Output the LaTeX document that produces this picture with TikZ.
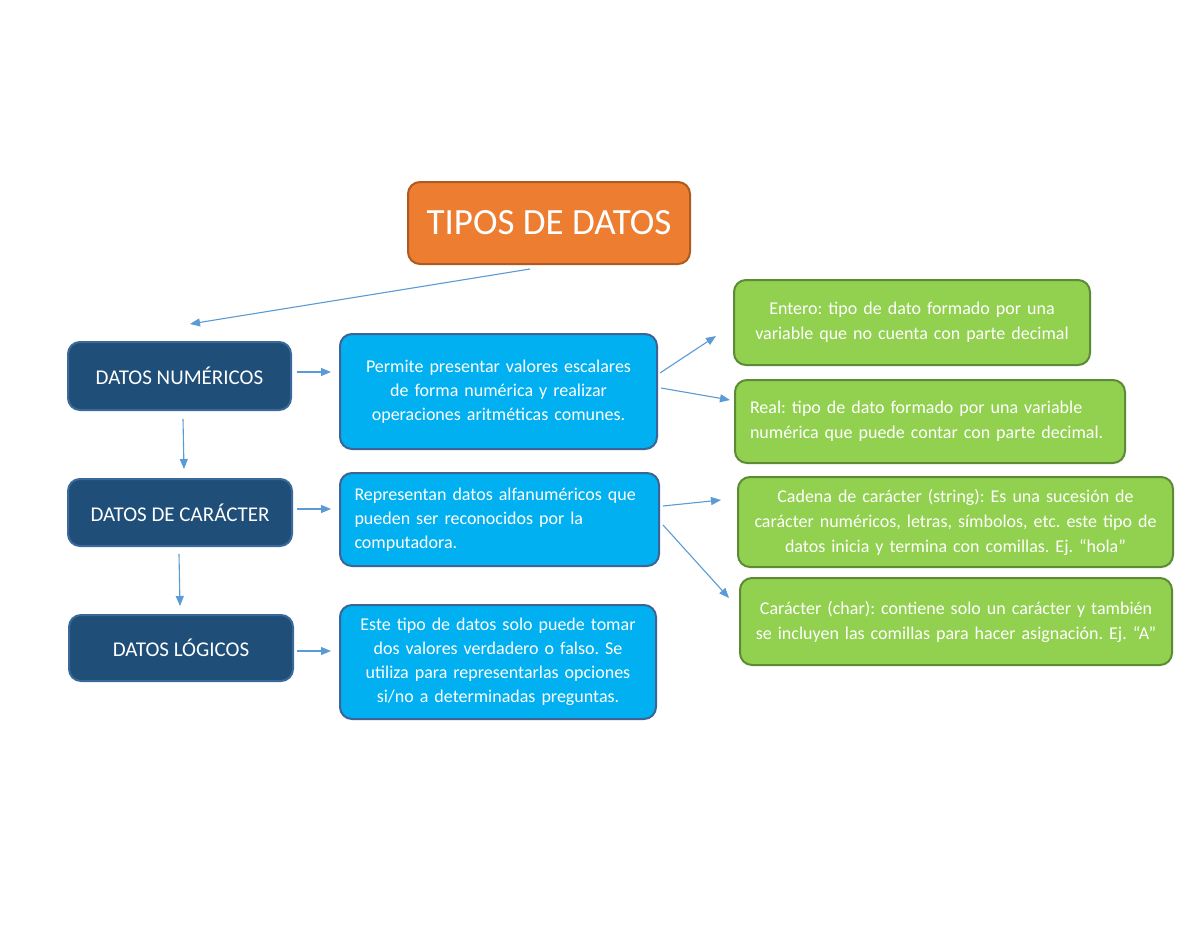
\documentclass[tikz,border=0pt]{standalone}
\usepackage{fontspec}
\setmainfont{Carlito}
\usetikzlibrary{arrows.meta,calc}
\definecolor{orfill}{HTML}{ED7D31}
\definecolor{ordraw}{HTML}{AE5A21}
\definecolor{dbfill}{HTML}{1F4E79}
\definecolor{dbdraw}{HTML}{3A6A99}
\definecolor{lbfill}{HTML}{00B0F0}
\definecolor{lbdraw}{HTML}{3C6496}
\definecolor{gfill}{HTML}{92D050}
\definecolor{gdraw}{HTML}{5B8C35}
\definecolor{arrc}{HTML}{5B9BD5}
\frenchspacing
\tikzset{
  basebox/.style={rectangle, rounded corners=12pt, line width=2pt, text=white, inner sep=0pt, font=\fontsize{18}{24}\selectfont},
  titlebox/.style={basebox, fill=orfill, draw=ordraw, font=\fontsize{37}{42}\selectfont},
  catbox/.style={basebox, fill=dbfill, draw=dbdraw, font=\fontsize{21}{24}\selectfont},
  descbox/.style={basebox, fill=lbfill, draw=lbdraw},
  typebox/.style={basebox, fill=gfill, draw=gdraw, font=\fontsize{18}{25}\selectfont},
  arr/.style={draw=arrc, line width=1.1pt, -{Triangle[length=10pt,width=8pt]}}
}
\begin{document}
\begin{tikzpicture}[x=1pt,y=-1pt]
\useasboundingbox[fill=white] (0,0) rectangle (1200,927);
\node[titlebox, minimum width=282pt, minimum height=82pt] (tipos) at (549,223) {TIPOS DE DATOS};
\node[catbox, minimum width=223pt, minimum height=68pt] (num) at (179.5,376) {DATOS NUMÉRICOS};
\node[catbox, minimum width=224pt, minimum height=67pt] (car) at (180,512.5) {DATOS DE CARÁCTER};
\node[catbox, minimum width=224pt, minimum height=66pt] (log) at (181,648) {DATOS LÓGICOS};
\node[descbox, minimum width=317pt, minimum height=115pt, text width=300pt, align=center] (b1) at (498.5,391.5) {Permite presentar valores escalares\\de forma numérica y realizar\\operaciones aritméticas comunes.};
\node[descbox, minimum width=319pt, minimum height=93pt, text width=290pt, align=left] (b2) at (499.5,519.5) {Representan datos alfanuméricos que\\pueden ser reconocidos por la\\computadora.};
\node[descbox, minimum width=316pt, minimum height=114pt, text width=300pt, align=center] (b3) at (498,662) {Este tipo de datos solo puede tomar\\dos valores verdadero o falso. Se\\utiliza para representarlas opciones\\si/no a determinadas preguntas.};
\node[typebox, minimum width=356pt, minimum height=85pt, text width=340pt, align=center] (g1) at (912,322.5) {Entero: tipo de dato formado por una\\variable que no cuenta con parte decimal};
\node[typebox, minimum width=390pt, minimum height=83pt, text width=360pt, align=left] (g2) at (930,421.5) {Real: tipo de dato formado por una variable\\numérica que puede contar con parte decimal.};
\node[typebox, minimum width=435pt, minimum height=90pt, text width=425pt, align=center] (g3) at (955.5,522) {Cadena de carácter (string): Es una sucesión de\\carácter numéricos, letras, símbolos, etc. este tipo de\\datos inicia y termina con comillas. Ej. “hola”};
\node[typebox, minimum width=432pt, minimum height=87pt, text width=425pt, align=center] (g4) at (956,621.5) {Carácter (char): contiene solo un carácter y también\\se incluyen las comillas para hacer asignación. Ej. “A”};
\draw[arr] ($(tipos.south)+(-19,4)$) -- ($(num.north)+(10.5,-17)$);
\draw[arr] ($(num.east)+(5,-4)$) -- ($(b1.west)+(-8,-19.5)$);
\draw[arr] ($(car.east)+(4,-3.5)$) -- ($(b2.west)+(-8,-10.5)$);
\draw[arr] ($(log.east)+(3,3)$) -- ($(b3.west)+(-8,-11)$);
\draw[arr] ($(num.south)+(3.5,8)$) -- ($(car.north)+(4,-9)$);
\draw[arr] ($(car.south)+(-1,7)$) -- ($(log.north)+(-1,-8)$);
\draw[arr] ($(b1.east)+(2,-18.5)$) -- ($(g1.west)+(-17,13.5)$);
\draw[arr] ($(b1.east)+(3,-3.5)$) -- ($(g2.west)+(-4,-21.5)$);
\draw[arr] ($(b2.east)+(3,-13.5)$) -- ($(g3.west)+(-16,-22)$);
\draw[arr] ($(b2.east)+(3,5.5)$) -- ($(g4.west)+(-10,-23.5)$);
\end{tikzpicture}
\end{document}
